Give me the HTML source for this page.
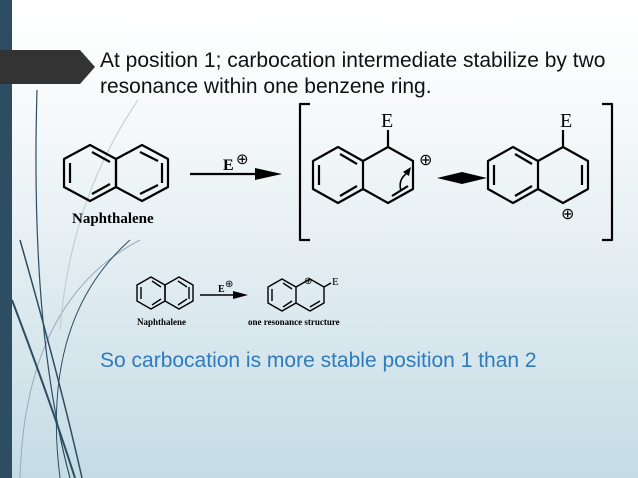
<!DOCTYPE html>
<html><head><style>
html,body{margin:0;padding:0;width:638px;height:478px;overflow:hidden}
</style></head><body>
<svg width="638" height="478" viewBox="0 0 638 478" xmlns="http://www.w3.org/2000/svg">
<defs>
<linearGradient id="bg" x1="0" y1="0" x2="0" y2="1">
<stop offset="0" stop-color="#ffffff"/><stop offset="0.25" stop-color="#f6f9fa"/><stop offset="1" stop-color="#c5dce5"/>
</linearGradient>
</defs>
<rect width="638" height="478" fill="url(#bg)"/>
<rect x="0" y="0" width="12" height="478" fill="#2d4d63"/>
<g fill="none" stroke="#2d4d63" stroke-width="1.5">
<path d="M20 478 Q 25 300 140 240" stroke="#9ab" stroke-width="1"/>
<path d="M37 90 Q 30 330 70 478" stroke="#2d4d63" stroke-width="1.2"/>
<path d="M12 300 Q 50 400 75 478" stroke-width="2"/>
<path d="M20 240 Q 60 380 82 478" stroke-width="1.5"/>
<path d="M60 478 Q 40 320 130 240" stroke="#2d4d63" stroke-width="1"/>
<path d="M138 100 Q 70 200 60 330" stroke="#bcc" stroke-width="1"/>
</g>
<polygon points="0,50 80,50 95,67 80,84 0,84" fill="#333"/>
<g font-family="Liberation Sans, sans-serif" font-size="21" fill="#111">
<text x="100" y="67">At position 1; carbocation intermediate stabilize by two</text>
<text x="100" y="93">resonance within one benzene ring.</text>
</g>
<text x="100" y="367" font-family="Liberation Sans, sans-serif" font-size="21" fill="#2e7bbf">So carbocation is more stable position 1 than 2</text>

<g fill="none" stroke="#000" stroke-width="2.2" stroke-linejoin="round">
<polygon points="90,145 116,159 116,187 90,201 64,187 64,159"/>
<polygon points="142,145 168,159 168,187 142,201 116,187 116,159"/>
<line x1="70" y1="163" x2="70" y2="183"/><line x1="92" y1="152" x2="110" y2="162"/><line x1="92" y1="194" x2="110" y2="184"/>
<line x1="162" y1="163" x2="162" y2="183"/><line x1="140" y1="152" x2="158" y2="161"/><line x1="140" y1="194" x2="158" y2="185"/>
<line x1="190" y1="174" x2="260" y2="174"/>
<polyline points="310,104 300,104 300,240 310,240"/>
<polyline points="602,104 612,104 612,240 602,240"/>
<polygon points="338,147 363,161 363,189 338,203 313,189 313,161"/>
<polyline points="363,161 388,147 413,161 413,189 388,203 363,189"/>
<line x1="319" y1="165" x2="319" y2="185"/><line x1="340" y1="154" x2="357" y2="164"/><line x1="340" y1="196" x2="357" y2="186"/>
<line x1="392" y1="196" x2="408" y2="186"/>
<line x1="388" y1="147" x2="388" y2="130"/>
<path d="M401 191 Q 398 180 406 174" stroke-width="1.6"/>
<polygon points="563,147 588,161 588,189 563,203 538,189 538,161" stroke="none"/>
<polygon points="513,147 538,161 538,189 513,203 488,189 488,161"/>
<polyline points="538,161 563,147 588,161 588,189 563,203 538,189"/>
<line x1="494" y1="165" x2="494" y2="185"/><line x1="515" y1="154" x2="532" y2="164"/><line x1="515" y1="196" x2="532" y2="186"/>
<line x1="582" y1="165" x2="582" y2="185"/>
<line x1="563" y1="147" x2="563" y2="130"/>
<g stroke-width="1.4">
<polygon points="151,277 165,285 165,301 151,309 137,301 137,285"/>
<polygon points="179,277 193,285 193,301 179,309 165,301 165,285"/>
<line x1="141" y1="287" x2="141" y2="299"/><line x1="152" y1="281" x2="161" y2="287"/><line x1="152" y1="305" x2="161" y2="299"/>
<line x1="189" y1="287" x2="189" y2="299"/><line x1="178" y1="281" x2="187" y2="287"/><line x1="178" y1="305" x2="187" y2="299"/>
<line x1="200" y1="295" x2="235" y2="295"/>
<polygon points="282,279 296,287 296,303 282,311 268,303 268,287"/>
<polyline points="296,287 310,279 324,287 324,303 310,311 296,303"/>
<line x1="272" y1="289" x2="272" y2="301"/><line x1="283" y1="283" x2="292" y2="289"/><line x1="283" y1="307" x2="292" y2="301"/>
<line x1="310" y1="307" x2="320" y2="301"/>
<line x1="324" y1="287" x2="331" y2="283"/>
</g>
</g>
<g fill="#000">
<polygon points="255,168 282,174 255,180"/>
<polygon points="233,291 248,295 233,299"/>
<polygon points="403,172 411,167 409,176"/>
<polygon points="437,178 462,172 487,178 462,184"/>
</g>
<g font-family="Liberation Serif, serif" fill="#000">
<text x="223" y="170" font-size="16" font-weight="bold">E</text>
<text x="236" y="164" font-size="15">⊕</text>
<text x="381" y="127" font-size="20">E</text>
<text x="419" y="165" font-size="16">⊕</text>
<text x="560" y="127" font-size="20">E</text>
<text x="561" y="219" font-size="16">⊕</text>
<text x="72" y="223" font-size="15" font-weight="bold">Naphthalene</text>
<text x="218" y="292" font-size="10" font-weight="bold">E</text>
<text x="225" y="287" font-size="10">⊕</text>
<text x="304" y="284" font-size="10">⊕</text>
<text x="332" y="285" font-size="11">E</text>
<text x="137" y="325" font-size="9" font-weight="bold">Naphthalene</text>
<text x="248" y="325" font-size="9" font-weight="bold">one resonance structure</text>
</g>
</svg>
</body></html>
